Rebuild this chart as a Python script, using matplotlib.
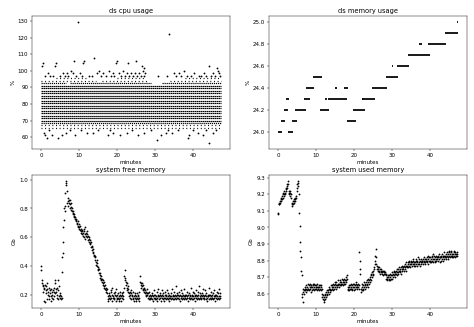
import numpy as np
import matplotlib
matplotlib.use("Agg")
import matplotlib.pyplot as plt

# samples are taken every 6 seconds -> 10 per minute
SAMPLES_PER_MIN = 10

# ds cpu usage (%): values are quantised in 1.5 % steps
cpu_full_rows = [70.0, 71.5, 73.0, 74.5, 76.0, 77.5, 79.0, 80.5,
                 82.0, 83.5, 85.0, 86.5, 88.0, 89.5, 91.0]
# (level, start minute, end minute) for busy rows that have gaps
cpu_busy_rows = [(92.5, 0.0, 6.5), (92.5, 7.5, 29.0), (92.5, 31.8, 47.3),
                 (68.5, 0.0, 47.3)]
# rows that only get hit now and then
cpu_thin_rows = [(67.0, 0.0, 47.3), (65.5, 0.0, 47.3),
                 (94.0, 0.0, 14.5), (94.0, 16.0, 28.0), (94.0, 34.0, 47.3),
                 (95.5, 4.0, 12.0), (95.5, 20.0, 27.0), (95.5, 38.0, 47.0)]
# single readings, level -> minutes
cpu_dots = {
    129.5: [9.8],
    122.0: [33.6],
    107.5: [13.9],
    106.0: [8.6, 11.4, 19.9, 24.9],
    104.5: [0.5, 3.9, 11.0, 19.8, 22.8],
    103.0: [0.2, 3.6, 26.5, 44.3],
    101.5: [27.2, 46.3],
    100.0: [8.0, 15.3, 17.9, 21.5, 26.8, 37.6, 46.6],
    98.5: [1.8, 5.9, 6.8, 8.3, 10.2, 14.6, 16.2, 18.9, 20.5, 22.5, 23.6,
           24.6, 25.8, 27.4, 35.0, 36.3, 40.2, 42.8, 45.3, 46.7],
    97.0: [1.0, 2.3, 3.1, 5.0, 6.3, 7.2, 9.1, 10.8, 12.5, 13.3, 15.8, 17.0,
           18.4, 19.3, 21.1, 22.0, 23.1, 24.2, 25.3, 26.2, 27.0, 30.8, 33.2,
           35.6, 36.9, 38.4, 39.5, 41.5, 42.2, 43.3, 44.7, 45.8, 47.0],
    64.0: [2.2, 7.6, 10.5, 15.0, 18.2, 24.0, 29.0, 33.4, 36.0, 40.0, 43.5, 46.0],
    62.5: [0.8, 6.6, 12.0, 13.7, 19.0, 22.6, 27.0, 32.8, 34.5, 41.3, 45.2],
    61.0: [1.0, 3.0, 5.5, 9.0, 17.6, 20.8, 25.6, 31.5, 39.0, 42.7],
    59.5: [1.5, 4.6, 38.6],
    58.0: [30.5],
    56.5: [44.2],
}

# ds memory usage (%): level, start minute, end minute
mem_level = [23.9, 23.9, 24.0, 24.0, 24.1, 24.1, 24.2, 24.2, 24.3, 24.3,
             24.4, 24.5, 24.3, 24.2, 24.3, 24.3, 24.4, 24.4, 24.1, 24.2,
             24.3, 24.4, 24.4, 24.5, 24.5, 24.6, 24.6, 24.7, 24.7, 24.8,
             24.8, 24.9, 24.9, 25.0]
mem_start = [0.0, 2.6, 0.0, 2.7, 0.8, 3.6, 1.5, 4.4, 2.0, 6.9,
             7.5, 9.3, 12.3, 11.1, 13.2, 22.2, 15.0, 17.4, 18.1, 19.7,
             22.2, 22.8, 24.8, 27.7, 28.4, 30.1, 31.2, 32.6, 34.1, 37.1,
             39.4, 42.7, 43.9, 47.2]
mem_end = [0.05, 2.65, 1.0, 3.9, 1.8, 5.1, 2.7, 7.3, 2.9, 8.4,
           9.6, 11.5, 12.8, 13.5, 18.1, 25.5, 15.5, 18.4, 20.5, 22.9,
           22.25, 22.85, 28.8, 27.75, 31.5, 30.15, 34.5, 32.65, 40.0, 37.8,
           44.3, 42.75, 47.4, 47.25]

# system free memory (Gb), one row per minute
free_mem = [
    0.40, 0.37, 0.30, 0.28, 0.26, 0.22, 0.27, 0.16, 0.25, 0.24,
    0.27, 0.15, 0.23, 0.26, 0.21, 0.17, 0.24, 0.28, 0.20, 0.22,
    0.19, 0.25, 0.17, 0.23, 0.21, 0.16, 0.24, 0.19, 0.22, 0.18,
    0.20, 0.23, 0.17, 0.25, 0.19, 0.22, 0.30, 0.21, 0.28, 0.24,
    0.22, 0.18, 0.25, 0.20, 0.17, 0.30, 0.23, 0.19, 0.26, 0.21,
    0.18, 0.20, 0.17, 0.19, 0.18, 0.36, 0.46, 0.49, 0.57, 0.67,
    0.72, 0.80, 0.82, 0.78, 0.91, 0.98, 0.99, 0.96, 0.92, 0.84,
    0.85, 0.87, 0.82, 0.86, 0.84, 0.86, 0.83, 0.80, 0.84, 0.81,
    0.79, 0.78, 0.80, 0.77, 0.76, 0.78, 0.75, 0.74, 0.76, 0.73,
    0.74, 0.72, 0.71, 0.73, 0.70, 0.69, 0.71, 0.68, 0.67, 0.69,
    0.67, 0.66, 0.68, 0.65, 0.64, 0.66, 0.63, 0.65, 0.62, 0.64,
    0.63, 0.61, 0.64, 0.66, 0.60, 0.62, 0.67, 0.59, 0.63, 0.61,
    0.62, 0.60, 0.64, 0.58, 0.61, 0.59, 0.57, 0.60, 0.56, 0.58,
    0.55, 0.57, 0.53, 0.54, 0.51, 0.53, 0.50, 0.52, 0.49, 0.47,
    0.48, 0.46, 0.44, 0.47, 0.43, 0.41, 0.44, 0.40, 0.42, 0.38,
    0.39, 0.37, 0.35, 0.38, 0.34, 0.32, 0.35, 0.31, 0.33, 0.30,
    0.31, 0.29, 0.28, 0.30, 0.27, 0.26, 0.29, 0.25, 0.24, 0.27,
    0.25, 0.23, 0.22, 0.21, 0.24, 0.19, 0.17, 0.16, 0.20, 0.18,
    0.21, 0.17, 0.19, 0.23, 0.18, 0.22, 0.16, 0.20, 0.25, 0.18,
    0.19, 0.21, 0.17, 0.18, 0.20, 0.22, 0.16, 0.19, 0.24, 0.18,
    0.17, 0.20, 0.18, 0.21, 0.16, 0.19, 0.17, 0.22, 0.18, 0.20,
    0.19, 0.16, 0.21, 0.18, 0.20, 0.17, 0.22, 0.19, 0.25, 0.33,
    0.37, 0.32, 0.30, 0.29, 0.27, 0.25, 0.28, 0.23, 0.26, 0.22,
    0.24, 0.21, 0.19, 0.22, 0.18, 0.20, 0.23, 0.17, 0.21, 0.19,
    0.20, 0.17, 0.22, 0.18, 0.19, 0.16, 0.21, 0.18, 0.20, 0.17,
    0.19, 0.16, 0.21, 0.18, 0.20, 0.17, 0.19, 0.16, 0.18, 0.22,
    0.33, 0.29, 0.27, 0.28, 0.25, 0.26, 0.28, 0.24, 0.27, 0.23,
    0.25, 0.22, 0.24, 0.21, 0.23, 0.20, 0.22, 0.19, 0.21, 0.24,
    0.20, 0.18, 0.21, 0.17, 0.19, 0.22, 0.18, 0.20, 0.17, 0.19,
    0.18, 0.20, 0.17, 0.21, 0.19, 0.16, 0.23, 0.18, 0.20, 0.17,
    0.18, 0.20, 0.17, 0.19, 0.22, 0.18, 0.16, 0.20, 0.19, 0.24,
    0.19, 0.17, 0.21, 0.18, 0.20, 0.16, 0.19, 0.23, 0.18, 0.20,
    0.17, 0.19, 0.21, 0.18, 0.16, 0.20, 0.18, 0.22, 0.19, 0.17,
    0.20, 0.18, 0.23, 0.17, 0.19, 0.21, 0.18, 0.16, 0.20, 0.19,
    0.18, 0.21, 0.17, 0.19, 0.24, 0.18, 0.20, 0.17, 0.19, 0.22,
    0.19, 0.17, 0.20, 0.18, 0.26, 0.19, 0.17, 0.21, 0.18, 0.20,
    0.18, 0.20, 0.17, 0.22, 0.19, 0.16, 0.20, 0.18, 0.23, 0.19,
    0.17, 0.19, 0.21, 0.18, 0.20, 0.17, 0.19, 0.24, 0.18, 0.20,
    0.19, 0.17, 0.20, 0.18, 0.22, 0.19, 0.16, 0.20, 0.18, 0.21,
    0.18, 0.20, 0.17, 0.19, 0.25, 0.18, 0.20, 0.17, 0.19, 0.22,
    0.19, 0.17, 0.21, 0.18, 0.20, 0.16, 0.19, 0.23, 0.18, 0.20,
    0.17, 0.19, 0.22, 0.18, 0.20, 0.17, 0.26, 0.19, 0.18, 0.21,
    0.20, 0.18, 0.17, 0.21, 0.19, 0.24, 0.18, 0.20, 0.17, 0.19,
    0.18, 0.20, 0.23, 0.17, 0.19, 0.21, 0.18, 0.16, 0.20, 0.19,
    0.19, 0.17, 0.20, 0.25, 0.18, 0.20, 0.17, 0.22, 0.19, 0.18,
    0.20, 0.18, 0.17, 0.21, 0.19, 0.23, 0.18, 0.20, 0.16, 0.19,
    0.18, 0.20, 0.22, 0.17, 0.19, 0.21, 0.18, 0.24, 0.19, 0.17,
    0.19, 0.21, 0.18,
]

# system used memory (Gb), one row per minute
used_mem = [
    9.08, 9.09, 9.14, 9.15, 9.14, 9.16, 9.15, 9.17, 9.16, 9.18,
    9.17, 9.19, 9.18, 9.20, 9.21, 9.19, 9.20, 9.22, 9.21, 9.20,
    9.22, 9.24, 9.23, 9.25, 9.26, 9.24, 9.28, 9.26, 9.22, 9.21,
    9.20, 9.21, 9.19, 9.22, 9.20, 9.18, 9.14, 9.13, 9.15, 9.14,
    9.16, 9.15, 9.17, 9.16, 9.18, 9.17, 9.16, 9.19, 9.18, 9.22,
    9.24, 9.26, 9.25, 9.28, 9.27, 9.20, 9.09, 9.01, 8.91, 8.86,
    8.82, 8.74, 8.71, 8.60, 8.58, 8.55, 8.61, 8.63, 8.60, 8.62,
    8.64, 8.62, 8.63, 8.61, 8.65, 8.63, 8.62, 8.64, 8.66, 8.63,
    8.63, 8.65, 8.62, 8.64, 8.66, 8.63, 8.65, 8.61, 8.64, 8.62,
    8.64, 8.66, 8.63, 8.65, 8.62, 8.64, 8.66, 8.63, 8.65, 8.64,
    8.63, 8.65, 8.64, 8.62, 8.66, 8.64, 8.63, 8.65, 8.62, 8.64,
    8.65, 8.63, 8.64, 8.62, 8.65, 8.63, 8.58, 8.60, 8.57, 8.59,
    8.56, 8.58, 8.55, 8.59, 8.57, 8.60, 8.58, 8.61, 8.59, 8.62,
    8.60, 8.62, 8.61, 8.63, 8.60, 8.64, 8.62, 8.61, 8.63, 8.65,
    8.62, 8.64, 8.63, 8.65, 8.62, 8.66, 8.64, 8.63, 8.65, 8.67,
    8.64, 8.66, 8.65, 8.63, 8.67, 8.65, 8.64, 8.66, 8.68, 8.65,
    8.66, 8.64, 8.67, 8.65, 8.68, 8.66, 8.65, 8.67, 8.69, 8.66,
    8.67, 8.65, 8.68, 8.66, 8.69, 8.67, 8.66, 8.68, 8.70, 8.67,
    8.68, 8.71, 8.69, 8.64, 8.62, 8.63, 8.65, 8.62, 8.64, 8.63,
    8.65, 8.63, 8.66, 8.64, 8.62, 8.65, 8.63, 8.66, 8.64, 8.62,
    8.64, 8.66, 8.63, 8.65, 8.67, 8.64, 8.66, 8.63, 8.65, 8.64,
    8.66, 8.64, 8.63, 8.65, 8.85, 8.80, 8.75, 8.72, 8.63, 8.61,
    8.62, 8.64, 8.66, 8.63, 8.65, 8.62, 8.64, 8.67, 8.65, 8.63,
    8.66, 8.64, 8.67, 8.65, 8.68, 8.66, 8.64, 8.67, 8.69, 8.66,
    8.68, 8.70, 8.67, 8.69, 8.71, 8.68, 8.72, 8.70, 8.73, 8.71,
    8.74, 8.72, 8.76, 8.75, 8.78, 8.80, 8.83, 8.87, 8.82, 8.78,
    8.77, 8.75, 8.76, 8.74, 8.75, 8.73, 8.76, 8.74, 8.72, 8.75,
    8.74, 8.73, 8.75, 8.72, 8.74, 8.73, 8.71, 8.74, 8.72, 8.73,
    8.74, 8.72, 8.73, 8.71, 8.72, 8.69, 8.70, 8.68, 8.69, 8.71,
    8.70, 8.68, 8.71, 8.69, 8.72, 8.70, 8.68, 8.71, 8.69, 8.73,
    8.71, 8.69, 8.72, 8.70, 8.73, 8.71, 8.74, 8.72, 8.70, 8.73,
    8.72, 8.74, 8.71, 8.75, 8.73, 8.72, 8.75, 8.73, 8.76, 8.74,
    8.73, 8.75, 8.74, 8.76, 8.72, 8.75, 8.77, 8.74, 8.76, 8.75,
    8.76, 8.74, 8.77, 8.75, 8.78, 8.76, 8.74, 8.77, 8.79, 8.76,
    8.77, 8.79, 8.76, 8.78, 8.80, 8.77, 8.79, 8.78, 8.76, 8.79,
    8.78, 8.80, 8.77, 8.79, 8.81, 8.78, 8.80, 8.77, 8.79, 8.78,
    8.79, 8.77, 8.80, 8.78, 8.81, 8.79, 8.77, 8.80, 8.78, 8.82,
    8.79, 8.81, 8.78, 8.80, 8.77, 8.79, 8.81, 8.78, 8.80, 8.79,
    8.80, 8.78, 8.81, 8.79, 8.82, 8.80, 8.78, 8.81, 8.79, 8.80,
    8.81, 8.79, 8.82, 8.80, 8.78, 8.81, 8.83, 8.80, 8.82, 8.79,
    8.80, 8.82, 8.79, 8.81, 8.83, 8.80, 8.82, 8.79, 8.81, 8.84,
    8.81, 8.83, 8.80, 8.82, 8.79, 8.81, 8.83, 8.80, 8.82, 8.81,
    8.82, 8.80, 8.83, 8.81, 8.84, 8.82, 8.79, 8.82, 8.80, 8.83,
    8.82, 8.84, 8.81, 8.83, 8.80, 8.82, 8.85, 8.81, 8.83, 8.82,
    8.83, 8.81, 8.84, 8.82, 8.85, 8.83, 8.81, 8.84, 8.82, 8.86,
    8.83, 8.85, 8.82, 8.84, 8.86, 8.83, 8.85, 8.82, 8.84, 8.83,
    8.84, 8.82, 8.85, 8.83, 8.86, 8.84, 8.82, 8.85, 8.83, 8.84,
    8.83, 8.85, 8.84,
]

t_free = np.arange(len(free_mem)) / SAMPLES_PER_MIN
t_used = np.arange(len(used_mem)) / SAMPLES_PER_MIN

fig, axes = plt.subplots(2, 2, figsize=(12, 8.28), dpi=39.5)
fig.subplots_adjust(left=0.0675, right=0.985, top=0.951, bottom=0.058,
                    wspace=0.197, hspace=0.197)

dot = dict(s=11, c="k", marker="o", linewidths=0)

# cpu
ax = axes[0, 0]
ax.hlines(cpu_full_rows, 0.0, 47.3, colors="k", lw=2.2, linestyles=(0, (1.3, 0.35)))
for lvl, a, b in cpu_busy_rows:
    ax.hlines(lvl, a, b, colors="k", lw=2.2, linestyles=(0, (1.0, 0.7)))
for lvl, a, b in cpu_thin_rows:
    ax.hlines(lvl, a, b, colors="k", lw=2.2, linestyles=(0, (0.8, 2.2)))
for lvl, ts in cpu_dots.items():
    ax.scatter(ts, [lvl] * len(ts), **dot)
ax.set_xlim(-2.37, 49.7)
ax.set_ylim(52.85, 133.15)
ax.set_title("ds cpu usage")
ax.set_xlabel("minutes")
ax.set_ylabel("%")

# ds memory
ax = axes[0, 1]
ax.hlines(mem_level, mem_start, mem_end, colors="k", lw=3.2)
ax.set_xlim(-2.37, 49.7)
ax.set_ylim(23.845, 25.055)
ax.set_title("ds memory usage")
ax.set_xlabel("minutes")
ax.set_ylabel("%")

# free memory
ax = axes[1, 0]
ax.scatter(t_free, free_mem, **dot)
ax.set_xlim(-2.37, 49.7)
ax.set_title("system free memory")
ax.set_xlabel("minutes")
ax.set_ylabel("Gb")

# used memory
ax = axes[1, 1]
ax.scatter(t_used, used_mem, **dot)
ax.set_xlim(-2.37, 49.7)
ax.set_title("system used memory")
ax.set_xlabel("minutes")
ax.set_ylabel("Gb")

plt.savefig("out.png", dpi=39.5)
